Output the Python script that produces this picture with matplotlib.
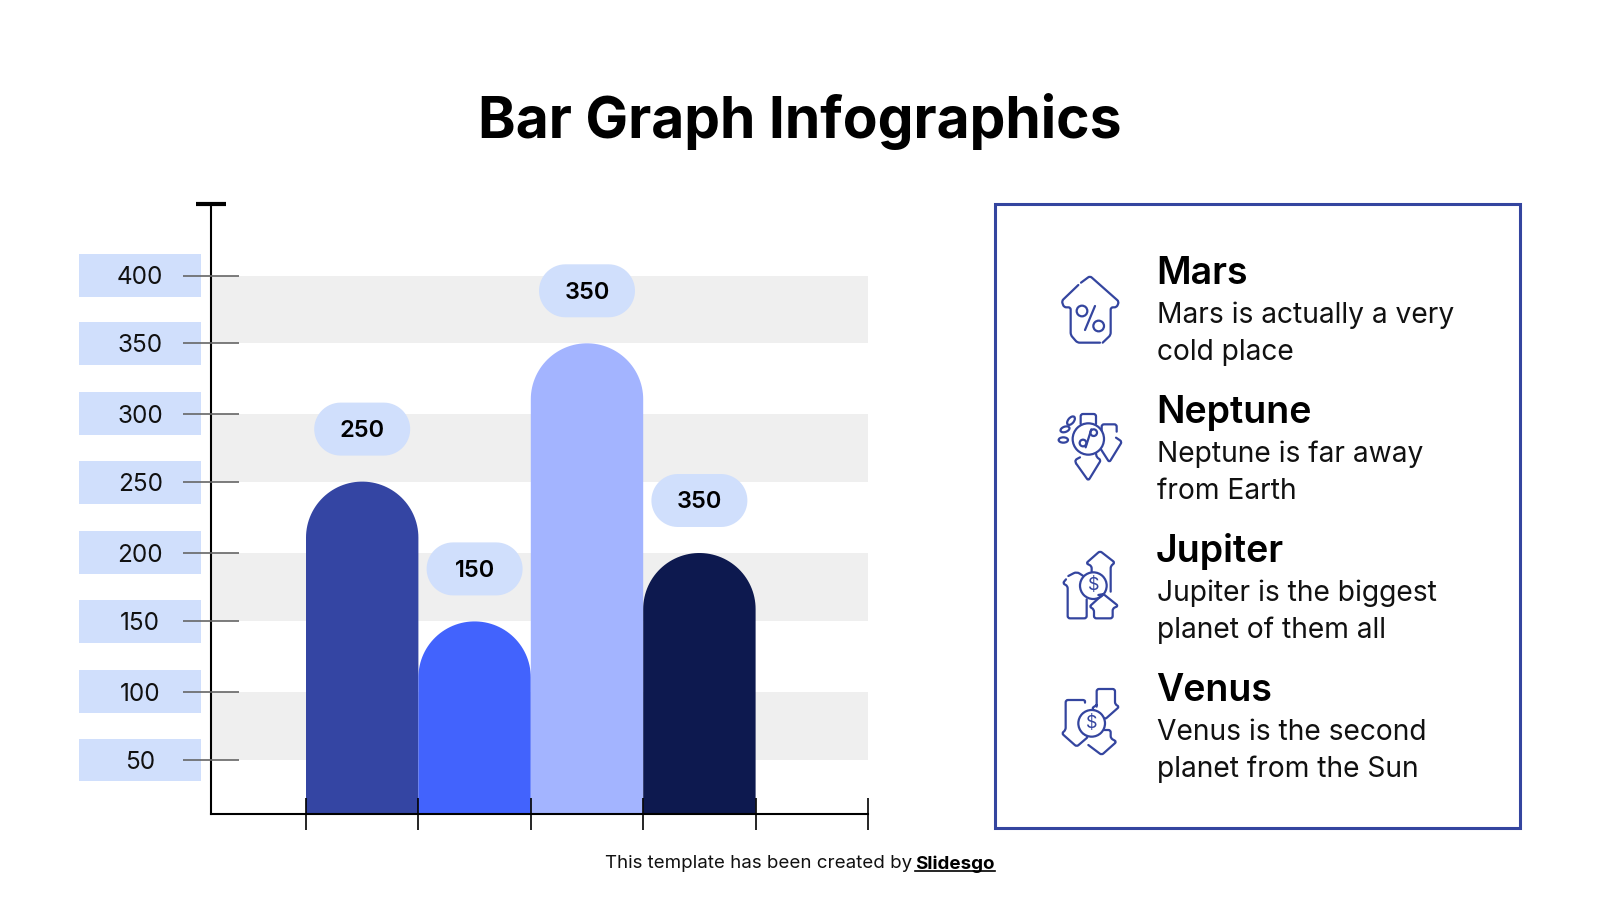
import numpy as np
import matplotlib
matplotlib.use('Agg')
import matplotlib.pyplot as plt
from matplotlib.patches import Ellipse, PathPatch, Polygon, Rectangle
from matplotlib.path import Path
from matplotlib.transforms import blended_transform_factory

plt.rcParams['font.family'] = ['Inter', 'DejaVu Sans']

# chart data
bar_heights = [250, 150, 350, 200]
bar_labels = ['250', '150', '350', '350']
bar_colors = ['#3445a3', '#4263fd', '#a3b4ff', '#0d194f']
y_ticks = [50, 100, 150, 200, 250, 300, 350, 400]
bands = [(50, 100), (150, 200), (250, 300), (350, 400)]
x_ticks = [0, 1, 2, 3, 4, 5]

planets = ['Mars', 'Neptune', 'Jupiter', 'Venus']
descriptions = [
    'Mars is actually a very\ncold place',
    'Neptune is far away\nfrom Earth',
    'Jupiter is the biggest\nplanet of them all',
    'Venus is the second\nplanet from the Sun',
]

INK = '#34459f'
PILL = '#d0dffc'

fig = plt.figure(figsize=(16, 9), dpi=100, facecolor='white')

# background layer in pixels
bg = fig.add_axes([0, 0, 1, 1], zorder=0)
bg.set_xlim(0, 1600)
bg.set_ylim(900, 0)
bg.axis('off')

# chart layer, x in bar widths, y in values
left, right, top, bottom = 211, 868, 204, 814
ax = fig.add_axes([left / 1600, 1 - bottom / 900, (right - left) / 1600, (bottom - top) / 900], zorder=1)
ax.patch.set_alpha(0)
bar_w = 112.4
ax.set_xlim((left - 306) / bar_w, (right - 306) / bar_w)

# the ticks of the original are not evenly spaced, so the y scale follows them
tick_rows = [760, 691.8, 621.4, 553, 481.6, 414.3, 343.3, 275.5]
px_per_val = (760 - 275.5) / 350
knot_vals = np.array([0] + y_ticks + [500], dtype=float)
knot_rows = np.array([760 + 50 * px_per_val] + tick_rows + [275.5 - 100 * px_per_val])


def to_row(v):
    return np.interp(v, knot_vals, -knot_rows)


def to_val(r):
    return np.interp(r, -knot_rows, knot_vals)


ax.set_yscale('function', functions=(to_row, to_val))
ymin, ymax = to_val(-bottom), to_val(-top)
ax.set_ylim(ymin, ymax)
ax.set_axisbelow(False)

for lo, hi in bands:
    ax.axhspan(lo, hi, xmin=0, xmax=1, color='#efefef', lw=0, zorder=0.5)

# bars with a round top
radius = 56
theta = np.linspace(np.pi, 0, 60)
for i, (h, c) in enumerate(zip(bar_heights, bar_colors)):
    top_row = -to_row(h)
    xs = np.concatenate([[i], i + 0.5 + 0.5 * np.cos(theta), [i + 1]])
    ys = np.concatenate([[ymin], to_val(-(top_row + radius - radius * np.sin(theta))), [ymin]])
    ax.fill(xs, ys, color=c, lw=0, zorder=1)

# value pills above the bars
pill_w, pill_h = 96, 53
arc = np.linspace(-np.pi / 2, np.pi / 2, 30)
for i, (h, lab) in enumerate(zip(bar_heights, bar_labels)):
    cx, cy = bg.transData.inverted().transform(ax.transData.transform((i + 0.5, h)))
    cy -= 52.5
    r = pill_h / 2
    px = np.concatenate([cx + pill_w / 2 - r + r * np.cos(arc), cx - pill_w / 2 + r - r * np.cos(arc[::-1] * -1)])
    py = np.concatenate([cy + r * np.sin(arc), cy + r * np.sin(arc[::-1])])
    ax.add_patch(Polygon(np.column_stack([px, py]), closed=True, fc=PILL, ec='none',
                         transform=bg.transData, clip_on=False, zorder=3))
    ax.text(cx, cy + 2, lab, transform=bg.transData, ha='center', va='center',
            fontsize=17, fontweight='semibold', color='black', zorder=4)

# axes
for s in ['top', 'right']:
    ax.spines[s].set_visible(False)
for s in ['left', 'bottom']:
    ax.spines[s].set_linewidth(1.5)
    ax.spines[s].set_color('black')
ax.set_yticks(y_ticks)
ax.set_yticklabels([str(v) for v in y_ticks], ha='center')
ax.tick_params(axis='y', direction='inout', length=40, width=1.2, color='#666666',
               pad=31, labelsize=17.5, labelcolor='#111111')
ax.set_xticks(x_ticks)
ax.set_xticklabels([])
ax.tick_params(axis='x', direction='inout', length=23, width=1.2, color='black')
ax.plot([-15 / 657, 15 / 657], [1, 1], transform=ax.transAxes, color='black', lw=3, clip_on=False,
        solid_capstyle='butt')

# pale boxes behind the tick labels
box_tr = blended_transform_factory(bg.transData, ax.transData)
for v in y_ticks:
    bg.add_patch(Rectangle((79, v - 15.5), 122, 31, fc=PILL, ec='none', transform=box_tr))

fig.text(0.5, 1 - 122 / 900, 'Bar Graph Infographics', ha='center', va='center',
         fontsize=41, fontweight='bold', color='black')

# right panel
bg.add_patch(Rectangle((995, 203.5), 525, 624, fc='none', ec=INK, lw=2.2))

head_y = [274, 413, 552, 691]
for name, desc, y in zip(planets, descriptions, head_y):
    bg.text(1156, y, name, fontsize=27, fontweight='semibold', color='black', va='center')
    l1, l2 = desc.split('\n')
    bg.text(1157, y + 41.5, l1, fontsize=20.3, color='#111111', va='center')
    bg.text(1157, y + 78.5, l2, fontsize=20.3, color='#111111', va='center')


# icons, outlines given in 3x crop coordinates of each icon's origin
def line(x0, y0, pts, r=7):
    pts = np.array(pts, dtype=float)
    verts = [pts[0]]
    codes = [Path.MOVETO]
    for k in range(1, len(pts) - 1):
        p, a, b = pts[k], pts[k - 1], pts[k + 1]
        d1 = min(r, np.linalg.norm(a - p) / 2)
        d2 = min(r, np.linalg.norm(b - p) / 2)
        verts += [p + (a - p) / np.linalg.norm(a - p) * d1, p, p + (b - p) / np.linalg.norm(b - p) * d2]
        codes += [Path.LINETO, Path.CURVE3, Path.CURVE3]
    verts.append(pts[-1])
    codes.append(Path.LINETO)
    verts = np.array(verts) / 3 + [x0, y0]
    bg.add_patch(PathPatch(Path(verts, codes), fc='none', ec=INK, lw=1.6, capstyle='round', joinstyle='round'))


def ring(x0, y0, cx, cy, w, h=None, angle=0):
    h = w if h is None else h
    bg.add_patch(Ellipse((x0 + cx / 3, y0 + cy / 3), w / 3, h / 3, angle=angle, fc='white', ec=INK, lw=1.6))


# Mars icon
ox, oy = 1020, 250
line(ox, oy, [(175, 105), (125, 153), (132, 172), (152, 172), (152, 255), (172, 278), (240, 278)])
line(ox, oy, [(183, 98), (210, 78), (297, 155), (290, 172), (272, 172), (272, 255), (248, 278)])
ring(ox, oy, 186, 183, 32)
ring(ox, oy, 236, 228, 32)
line(ox, oy, [(225, 168), (195, 240)])

# Neptune icon
line(ox, oy, [(182, 522), (182, 492), (228, 492), (228, 522)])
line(ox, oy, [(245, 565), (245, 523), (290, 523), (290, 545)])
line(ox, oy, [(288, 563), (306, 575), (268, 637), (230, 578), (245, 568)])
line(ox, oy, [(168, 640), (205, 692), (243, 630), (230, 622), (228, 610)])
line(ox, oy, [(168, 640), (165, 630), (180, 622)])
ring(ox, oy, 205, 567, 94)
ring(ox, oy, 189, 579, 20)
ring(ox, oy, 221, 548, 20)
line(ox, oy, [(214, 538), (197, 592)])
ring(ox, oy, 153, 512, 30, 17, -50)
ring(ox, oy, 135, 538, 28, 16, -20)
ring(ox, oy, 130, 570, 28, 16, 0)

# Jupiter icon
ox, oy = 1020, 520
line(ox, oy, [(215, 155), (215, 138), (198, 130), (240, 93), (285, 128), (272, 138), (272, 215)])
line(ox, oy, [(145, 168), (170, 155), (190, 168)], r=10)
line(ox, oy, [(138, 178), (128, 190), (143, 198), (143, 295), (200, 295), (200, 238)])
ring(ox, oy, 220, 197, 80)
line(ox, oy, [(235, 225), (250, 222), (208, 260), (222, 268), (222, 295), (278, 295), (278, 265), (295, 258), (250, 222)])
bg.text(ox + 220 / 3, oy + 197 / 3, '$', fontsize=13, color=INK, ha='center', va='center')

# Venus icon
line(ox, oy, [(230, 560), (230, 507), (285, 507), (285, 553), (298, 560), (255, 598), (215, 565), (230, 555)])
line(ox, oy, [(195, 548), (195, 540), (137, 540), (137, 630), (125, 640), (170, 680), (205, 650), (190, 640)])
line(ox, oy, [(205, 675), (245, 705), (290, 665), (272, 655), (272, 630), (245, 630)])
ring(ox, oy, 215, 610, 80)
bg.text(ox + 215 / 3, oy + 610 / 3, '$', fontsize=13, color=INK, ha='center', va='center')

# footer
bg.text(605, 864, 'This template has been created by', fontsize=13.5, color='#111111', va='center')
bg.text(915, 864, 'Slidesgo', fontsize=13.5, fontweight='bold', color='black', va='center')
bg.plot([915, 995], [871, 871], color='black', lw=1.2)

fig.savefig('out.png', dpi=100)
